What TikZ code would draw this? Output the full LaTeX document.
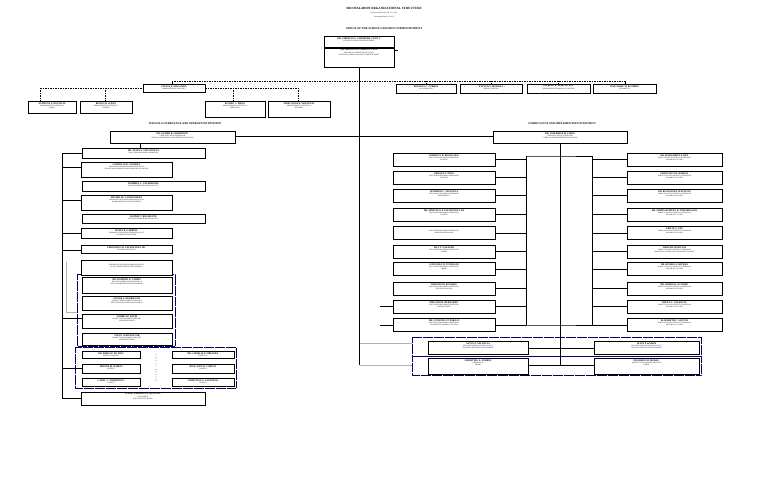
\documentclass[tikz,border=0pt]{standalone}
\usepackage{fontspec}
\setmainfont{Liberation Serif}
\begin{document}
\begin{tikzpicture}[x=1pt,y=-1pt,
  ln/.style={line width=0.6pt},
  dl/.style={line width=0.6pt,dash pattern=on 1.5pt off 1pt},
  dt/.style={line width=0.5pt,draw=blue!40!black,dash pattern=on 0.5pt off 0.6pt},
  gl/.style={line width=0.3pt,gray!60},
  tn/.style={font=\fontsize{2.4}{2.6}\selectfont\bfseries,inner sep=0},
  ts/.style={font=\fontsize{1.7}{2}\selectfont,inner sep=0,align=center},
  tt/.style={font=\fontsize{3.2}{3.6}\selectfont\bfseries,inner sep=0}]
\useasboundingbox (0,0) rectangle (768,502);
\fill[white] (0,0) rectangle (768,502);
% box macro: name, x1,y1,x2,y2, title, subtitle
\newcommand\bx[7]{%
  \draw[line width=0.7pt,fill=white] (#2,#3) rectangle (#4,#5);
  \coordinate (#1) at ({(#2+#4)/2},{(#3+#5)/2});
  \node[tn] (#1t) at ({(#2+#4)/2},{#3+2.3}) {#6};
  \node[ts,anchor=north] (#1s) at ({(#2+#4)/2},{#3+4.5}) {#7};}
% titles
\node[tt] (title) at (384,8) {SDO MALABON ORGANIZATIONAL STRUCTURE};
\node[ts] (sub1) at (384,13.5) {Based on DepEd Order No. 52 s. 2015};
\node[ts] (sub2) at (384,17) {Last updated March 15, 2022};
\node[tt,font=\fontsize{2.8}{3}\selectfont\bfseries] (osds) at (384,29) {OFFICE OF THE SCHOOLS DIVISION SUPERINTENDENT};
\node[tt,font=\fontsize{2.8}{3}\selectfont\bfseries] (sgodt) at (185,124) {SCHOOL GOVERNANCE AND OPERATIONS DIVISION};
\node[tt,font=\fontsize{2.8}{3}\selectfont\bfseries] (cidt) at (562,124) {CURRICULUM AND IMPLEMENTATION DIVISION};
% connectors (drawn first)
\draw[ln,line width=1pt] (359,67) -- (359,365);
\draw[ln] (235,136) -- (493,136);
\draw[ln] (394,50) -- (398,50);
\draw[dl] (40,88) -- (143,88);
\draw[dl] (40,88) -- (40,101);
\draw[dl] (105,88) -- (105,101);
\draw[dl] (205,88) -- (298,88);
\draw[dl] (233,88) -- (233,101);
\draw[dl] (298,88) -- (298,101);
\draw[dl] (172,84) -- (172,81) -- (625,81) -- (625,84);
\draw[dl] (426,81) -- (426,84);
\draw[dl] (491,81) -- (491,84);
\draw[dl] (558,81) -- (558,84);
% SGOD lines
\draw[ln] (140,143) -- (140,148);
\draw[ln] (62,153) -- (62,398);
\foreach \y in {153,167,200,233,250,318,368,398} \draw[ln] (62,\y) -- (82,\y);
\draw[gl] (66,262) -- (66,312) -- (77,312);
% CID lines
\draw[ln] (560,143) -- (560,365);
\draw[ln] (526,156) -- (526,325); \draw[ln] (592,156) -- (592,325);
\draw[ln] (526,156) -- (560,156) -- (592,156);
\draw[ln] (526,325) -- (560,325) -- (592,325);
\foreach \y in {159,177,195,214,233,251,269,288,306,325} {
  \draw[ln] (495,\y) -- (526,\y); \draw[ln] (592,\y) -- (627,\y);}
\draw[ln] (380,306) -- (393,306); \draw[ln] (380,325) -- (393,325);
\draw[ln] (528,348) -- (594,348); \draw[ln] (528,365) -- (594,365);
\draw[gl] (360,343) -- (412,343); \draw[gl] (360,365) -- (412,365);
% dotted groups
\draw[dt] (77,274) rectangle (175,346);
\draw[dt] (75,347) rectangle (236,388);
\draw[dt] (412,337) rectangle (701,356);
\draw[dt] (412,356) rectangle (701,375);
% OSDS
\bx{sds}{324}{36}{394}{47}{DR. VIRGILIO S. CABAÑERA, CESO V}{SCHOOLS DIVISION SUPERINTENDENT}
\bx{asds}{324}{48}{394}{67}{DR. MELVIN D. LASERNA, CESE}{OFFICER-IN-CHARGE OFFICE OF THE\\ASSISTANT SCHOOLS DIVISION SUPERINTENDENT}
\bx{ao5}{143}{84}{205}{92}{SYLVIA E. MAGANDA}{ADMINISTRATIVE OFFICER V}
\bx{sup}{28}{101}{76}{113}{ANTHONY F. BAUTISTA}{ADMINISTRATIVE OFFICER IV\\SUPPLY}
\bx{cash}{80}{101}{132}{113}{BELEN M. JUDAN}{ADMINISTRATIVE OFFICER IV\\CASHIER}
\bx{pers}{205}{101}{265}{117}{ROMEO C. PIDAS}{ADMINISTRATIVE OFFICER IV\\PERSONNEL}
\bx{rec}{268}{101}{330}{117}{MARY ROSE B. MOLINTAS}{ADMINISTRATIVE OFFICER IV\\RECORDS}
\bx{acc}{396}{84}{456}{93}{ERLINDA C. TORRES}{ACCOUNTANT III}
\bx{bud}{460}{84}{522}{93}{EVELYN V. MORADA}{BUDGET OFFICER}
\bx{ito}{527}{84}{590}{93}{GILBERT R. MARTIN, LPT}{INFORMATION TECHNOLOGY OFFICER}
\bx{att}{593}{84}{656}{93}{JOSE MARY M. ROMERO}{ATTORNEY III}
% SGOD
\bx{sgod}{110}{131}{235}{143}{DR. ELMER B. SARMIENTO}{CHIEF EDUCATION SUPERVISOR\\SCHOOL GOVERNANCE AND OPERATIONS DIVISION}
\bx{g1}{82}{148}{205}{158}{DR. ALVIN V. VILLANUEVA}{EDUCATION PROGRAM SUPERVISOR}
\bx{g2}{81}{162}{172}{177}{CORNELIO D. ALVAREZ}{SENIOR EDUCATION PROGRAM SPECIALIST\\SCHOOL MANAGEMENT MONITORING \& EVALUATION}
\bx{g3}{82}{181}{205}{191}{ROMMEL C. VALDERAMA}{EDUCATION PROGRAM SPECIALIST II}
\bx{g4}{81}{195}{172}{210}{MICHELLE V. FERNANDEZ}{SENIOR EDUCATION PROGRAM SPECIALIST\\HUMAN RESOURCE DEVELOPMENT}
\bx{g5}{82}{214}{205}{223}{RONNIE T. BELMONTE}{EDUCATION PROGRAM SPECIALIST II}
\bx{g6}{81}{228}{172}{238}{RUFFA B. GABRIEL}{SENIOR EDUCATION PROGRAM SPECIALIST\\PLANNING \& RESEARCH}
\bx{g7}{81}{245}{172}{253}{FERNANDO M. VALENZUELA JR.}{PLANNING OFFICER III}
\bx{g8}{81}{260}{172}{275}{}{SENIOR EDUCATION PROGRAM SPECIALIST\\SOCIAL MOBILIZATION \& NETWORKING}
\bx{g9}{82}{277}{172}{293}{DR. ROMMEL P. CARPIO}{EDUCATION PROGRAM SPECIALIST II\\SOCIAL MOBILIZATION \& NETWORKING}
\bx{g10}{82}{296}{172}{310}{EDGAR S. RODRIGUEZ}{PROJECT DEVELOPMENT OFFICER II\\EDUCATION FACILITIES MANAGEMENT}
\bx{g11}{82}{314}{172}{328}{ANDREA P. DAVID}{PROJECT DEVELOPMENT OFFICER I\\LEARNER SUPPORT}
\bx{g12}{82}{333}{172}{345}{STEVE JOHN PASTOR}{PROJECT DEVELOPMENT OFFICER I\\LEARNER SUPPORT}
\bx{h1}{82}{351}{140}{358}{DR. ERIKA P. DE DIOS}{MEDICAL OFFICER}
\bx{h2}{82}{364}{140}{373}{ARLENE M. RAMOS}{NURSE II}
\bx{h3}{82}{378}{140}{386}{CARYL C. SARMIENTO}{NURSE II}
\bx{h4}{172}{351}{234}{358}{DR. CHARLIE P. MIRANDA}{DENTIST II}
\bx{h5}{172}{364}{234}{373}{ROSE ANN M. CORPUZ}{NURSE II}
\bx{h6}{172}{378}{234}{386}{CHRISTIAN A. SALVADOR}{NURSE II}
\node[ts,align=center,font=\fontsize{1.6}{2.2}\selectfont] (hs) at (156,368) {S\\C\\H\\O\\O\\L\\ \\H\\E\\A\\L\\T\\H};
\bx{g13}{81}{392}{205}{405}{ENGR. EMERSON E. QUINTOS}{ENGINEER III\\EDUCATION FACILITIES}
% CID
\bx{cid}{493}{131}{627}{143}{DR. JOSEPHINE M. FABIO}{CHIEF EDUCATION SUPERVISOR\\CURRICULUM IMPLEMENTATION DIVISION}
\foreach \n/\y/\a/\b in {1/153/MARILOU R. REGALADO/FILIPINO, 2/171/GERALD F. TAÑO/ENGLISH,
  3/189/JENNIFER C. VALENCIA/MATHEMATICS, 4/208/DR. MARCELO P. VALENZUELA III/SCIENCE,
  5/226/ /ARALING PANLIPUNAN, 6/245/LILY T. SALAZAR/MAPEH / TLE, 7/262/CONSUELO D. TOMAGAN/LRMDS,
  8/282/ARSENIO M. ROSARIO/VALUES EDUCATION, 9/300/MELANIE R. BERNARDO/KINDERGARTEN, 10/318/DR. CONSUELO P. PAREJA/ALTERNATIVE LEARNING SYSTEM} {
  \bx{cl\n}{393}{\y}{495}{\y+13}{\a}{EDUCATION PROGRAM SUPERVISOR\\\b}}
\foreach \n/\y/\a/\b in {1/153/DR. MARGARITA P. REY/MALABON CLUSTER, 2/171/FRANCISCO R. ROBLES/MALABON CLUSTER,
  3/189/DR. ROSALIND F. BAUTISTA/MALABON CLUSTER, 4/208/DR. MARIA RUBILYN B. TAPUMBAGAN/MALABON CLUSTER,
  5/226/ERWIN A. YAP/MALABON CLUSTER, 6/245/ARSENIA M. ROXAS/MALABON CLUSTER AND SECONDARY SCHOOLS,
  7/262/DR. ROMEO A. RIVERA/MALABON CLUSTER, 8/282/DR. MARIO R. OCAMPO/MALABON CLUSTER,
  9/300/BELEN C. VALENCIA/MALABON CLUSTER, 10/318/ELIZABETH C. SANTOS/MALABON CLUSTER} {
  \bx{cr\n}{627}{\y}{722}{\y+13}{\a}{PUBLIC SCHOOLS DISTRICT SUPERVISOR\\\b}}
\bx{b1}{428}{341}{528}{354}{ALVIN A. VALENCIA}{EDUCATION PROGRAM SPECIALIST II\\LEARNING RESOURCE MANAGEMENT}
\bx{b2}{594}{341}{699}{354}{ALVIN P. RAMOS}{EDUCATION PROGRAM SPECIALIST II\\LEARNING RESOURCE MANAGEMENT}
\bx{b3}{428}{358}{528}{374}{CHRISTINE A. ANDRES}{LIBRARIAN II\\LRMDS}
\bx{b4}{594}{358}{699}{374}{EDGARDO M. MORAL}{PROJECT DEVELOPMENT OFFICER II\\LRMDS}
\end{tikzpicture}
\end{document}
